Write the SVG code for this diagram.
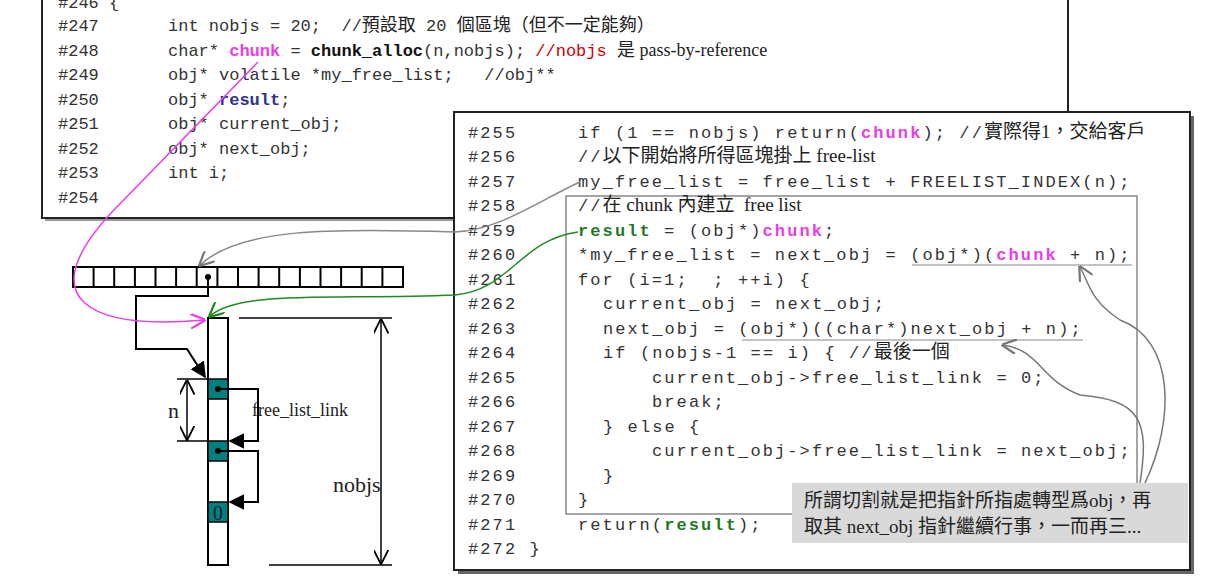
<svg xmlns="http://www.w3.org/2000/svg" width="1214" height="586" viewBox="0 0 1214 586">
<style>
text{white-space:pre}
.m{font-family:"Liberation Mono",monospace;font-size:17px;fill:#333}
.r .m{letter-spacing:2.1px}
.s{font-family:"Liberation Serif","Noto Sans CJK TC",serif;fill:#222}
.k{fill:#e83ee8;font-weight:bold}
.b{font-weight:bold;fill:#111}
.bl{font-weight:bold;fill:#2e3192}
.g{font-weight:bold;fill:#1f7a1f}
.ln{fill:none;stroke:#000;stroke-width:2}
.cell{fill:#fff;stroke:#000;stroke-width:2}
.teal{fill:#008080;stroke:#000;stroke-width:1.5}
</style>
<defs>
<marker id="a" viewBox="0 0 10 10" refX="9" refY="5" markerWidth="8" markerHeight="8" orient="auto-start-reverse"><path d="M0,0L10,5L0,10z" fill="#000"/></marker>
<marker id="o" viewBox="0 0 10 10" refX="9" refY="5" markerWidth="10" markerHeight="10" orient="auto-start-reverse"><path d="M0,0L10,5L0,10" fill="none" stroke="#000" stroke-width="1.2"/></marker>
<marker id="om" viewBox="0 0 10 10" refX="9" refY="5" markerWidth="10" markerHeight="10" orient="auto"><path d="M0,0L10,5L0,10" fill="none" stroke="#e83ee8" stroke-width="1.5"/></marker>
<marker id="og" viewBox="0 0 10 10" refX="9" refY="5" markerWidth="10" markerHeight="10" orient="auto"><path d="M0,0L10,5L0,10" fill="none" stroke="#1f8a1f" stroke-width="1.5"/></marker>
<marker id="oy" viewBox="0 0 10 10" refX="9" refY="5" markerWidth="10" markerHeight="10" orient="auto"><path d="M0,0L10,5L0,10" fill="none" stroke="#777" stroke-width="1.5"/></marker>
</defs>
<rect width="1214" height="586" fill="#fff"/>
<g id="topbox">
<rect x="42" y="-5" width="1026" height="223" fill="#fff" stroke="#222" stroke-width="2"/>
<line x1="45" y1="220" x2="1070" y2="220" stroke="#999" stroke-width="2"/>
<text class="m" x="58" y="8">#246 {</text>
<text class="m" x="58" y="31">#247</text><text class="m" x="168" y="31">int nobjs = 20;  //<tspan class="s" font-size="18">預設取</tspan> 20 <tspan class="s" font-size="18">個區塊（但不一定能夠）</tspan></text>
<text class="m" x="58" y="56">#248</text><text class="m" x="168" y="56">char* <tspan class="k">chunk</tspan> = <tspan class="b">chunk_alloc</tspan>(n,nobjs); <tspan fill="#d00000">//nobjs </tspan><tspan class="s" fill="#d00000" font-size="18">是 pass-by-reference</tspan></text>
<text class="m" x="58" y="80">#249</text><text class="m" x="168" y="80">obj* volatile *my_free_list;   //obj**</text>
<text class="m" x="58" y="105">#250</text><text class="m" x="168" y="105">obj* <tspan class="bl">result</tspan>;</text>
<text class="m" x="58" y="129">#251</text><text class="m" x="168" y="129">obj* current_obj;</text>
<text class="m" x="58" y="154">#252</text><text class="m" x="168" y="154">obj* next_obj;</text>
<text class="m" x="58" y="178">#253</text><text class="m" x="168" y="178">int i;</text>
<text class="m" x="58" y="203">#254</text>
</g>
<g id="rightbox" class="r">
<rect x="458" y="116" width="736" height="458" fill="#666"/>
<rect x="454" y="112" width="736" height="458" fill="#fff" stroke="#222" stroke-width="2"/>
<rect x="566" y="196" width="571" height="318" fill="none" stroke="#888" stroke-width="1.5"/>
<text class="m" x="468" y="138">#255</text><text class="m" x="578" y="138">if (1 == nobjs) return(<tspan class="k">chunk</tspan>); //<tspan class="s" font-size="19" letter-spacing="0">實際得1，交給客戶</tspan></text>
<text class="m" x="468" y="162">#256</text><text class="m" x="578" y="162">//<tspan class="s" font-size="19" letter-spacing="0">以下開始將所得區塊掛上 free-list</tspan></text>
<text class="m" x="468" y="187">#257</text><text class="m" x="578" y="187">my_free_list = free_list + FREELIST_INDEX(n);</text>
<text class="m" x="468" y="211">#258</text><text class="m" x="578" y="211">//<tspan class="s" font-size="19" letter-spacing="0">在 chunk 內建立  free list</tspan></text>
<text class="m" x="468" y="236">#259</text><text class="m" x="578" y="236"><tspan class="g">result</tspan> = (obj*)<tspan class="k">chunk</tspan>;</text>
<text class="m" x="468" y="260">#260</text><text class="m" x="578" y="260">*my_free_list = next_obj = (obj*)(<tspan class="k">chunk</tspan> + n);</text>
<text class="m" x="468" y="285">#261</text><text class="m" x="578" y="285">for (i=1;  ; ++i) {</text>
<text class="m" x="468" y="309">#262</text><text class="m" x="603" y="309">current_obj = next_obj;</text>
<text class="m" x="468" y="334">#263</text><text class="m" x="603" y="334">next_obj = (obj*)((char*)next_obj + n);</text>
<text class="m" x="468" y="358">#264</text><text class="m" x="603" y="358">if (nobjs-1 == i) { //<tspan class="s" font-size="19" letter-spacing="0">最後一個</tspan></text>
<text class="m" x="468" y="383">#265</text><text class="m" x="652" y="383">current_obj->free_list_link = 0;</text>
<text class="m" x="468" y="407">#266</text><text class="m" x="652" y="407">break;</text>
<text class="m" x="468" y="432">#267</text><text class="m" x="603" y="432">} else {</text>
<text class="m" x="468" y="456">#268</text><text class="m" x="652" y="456">current_obj->free_list_link = next_obj;</text>
<text class="m" x="468" y="481">#269</text><text class="m" x="603" y="481">}</text>
<text class="m" x="468" y="505">#270</text><text class="m" x="578" y="505">}</text>
<text class="m" x="468" y="530">#271</text><text class="m" x="578" y="530">return(<tspan class="g">result</tspan>);</text>
<text class="m" x="468" y="554">#272 }</text>
<line x1="912" y1="265" x2="1132" y2="265" stroke="#888" stroke-width="1.2"/>
<line x1="742" y1="340" x2="1083" y2="340" stroke="#888" stroke-width="1.2"/>
</g>
<g id="callout">
<rect x="792" y="483" width="396" height="60" fill="#d9d9d9"/>
<text class="s" x="804" y="507" font-size="19">所謂切割就是把指針所指處轉型爲obj，再</text>
<text class="s" x="804" y="533" font-size="19">取其 next_obj 指針繼續行事，一而再三...</text>
</g>
<g id="freelist">
<rect x="73" y="267" width="330" height="20" class="cell"/>
<g stroke="#000" stroke-width="2">
<line x1="93.6" y1="267" x2="93.6" y2="287"/><line x1="114.2" y1="267" x2="114.2" y2="287"/><line x1="134.9" y1="267" x2="134.9" y2="287"/><line x1="155.5" y1="267" x2="155.5" y2="287"/><line x1="176.1" y1="267" x2="176.1" y2="287"/><line x1="196.7" y1="267" x2="196.7" y2="287"/><line x1="217.4" y1="267" x2="217.4" y2="287"/><line x1="238" y1="267" x2="238" y2="287"/><line x1="258.6" y1="267" x2="258.6" y2="287"/><line x1="279.2" y1="267" x2="279.2" y2="287"/><line x1="299.9" y1="267" x2="299.9" y2="287"/><line x1="320.5" y1="267" x2="320.5" y2="287"/><line x1="341.1" y1="267" x2="341.1" y2="287"/><line x1="361.7" y1="267" x2="361.7" y2="287"/><line x1="382.4" y1="267" x2="382.4" y2="287"/>
</g>
<circle cx="208" cy="277" r="3" fill="#000"/>
</g>
<g id="chunkcol">
<rect x="208" y="318" width="20" height="247" class="cell"/>
<rect x="208" y="379" width="20" height="20" class="teal"/>
<rect x="208" y="441" width="20" height="20" class="teal"/>
<rect x="208" y="502" width="20" height="20" class="teal"/>
<text class="s" x="218" y="520" font-size="20" text-anchor="middle">0</text>
<circle cx="218" cy="389" r="3" fill="#000"/>
<circle cx="218" cy="451" r="3" fill="#000"/>
<text class="s" x="252" y="416" font-size="18">free_list_link</text>
<text class="s" x="168" y="418" font-size="22">n</text>
<text class="s" x="333" y="492" font-size="22">nobjs</text>
</g>
<g id="connectors">
<polyline class="ln" points="208,277 208,296 136,296 136,349 187,349 205,377" marker-end="url(#a)"/>
<polyline class="ln" points="218,389 258,389 258,441 230,441" marker-end="url(#a)"/>
<polyline class="ln" points="218,451 258,451 258,502 230,502" marker-end="url(#a)"/>
<g stroke="#000" stroke-width="1.5">
<line x1="177" y1="379" x2="208" y2="379"/><line x1="177" y1="441" x2="208" y2="441"/>
<line x1="239" y1="318" x2="392" y2="318"/><line x1="269" y1="565" x2="392" y2="565"/>
<line x1="187" y1="381" x2="187" y2="439" marker-start="url(#o)" marker-end="url(#o)"/>
<line x1="381" y1="320" x2="381" y2="563" marker-start="url(#o)" marker-end="url(#o)"/>
</g>
<path d="M258,62 L112,212 C30,300 90,330 204,320" fill="none" stroke="#e83ee8" stroke-width="1.5" marker-end="url(#om)"/>
<path d="M580,182 C540,200 500,230 455,232 C330,228 240,228 200,265" fill="none" stroke="#888" stroke-width="1.5" marker-end="url(#oy)"/>
<path d="M578,232 C520,240 510,290 455,295 C330,300 240,290 210,316" fill="none" stroke="#1f8a1f" stroke-width="1.5" marker-end="url(#og)"/>
<path d="M1145,483 C1175,420 1175,340 1120,320 C1090,300 1090,285 1080,267" fill="none" stroke="#777" stroke-width="1.5" marker-end="url(#oy)"/>
<path d="M1140,483 C1150,420 1140,400 1080,395 C1040,380 1040,350 1003,345" fill="none" stroke="#777" stroke-width="1.5" marker-end="url(#oy)"/>
</g>
</svg>
